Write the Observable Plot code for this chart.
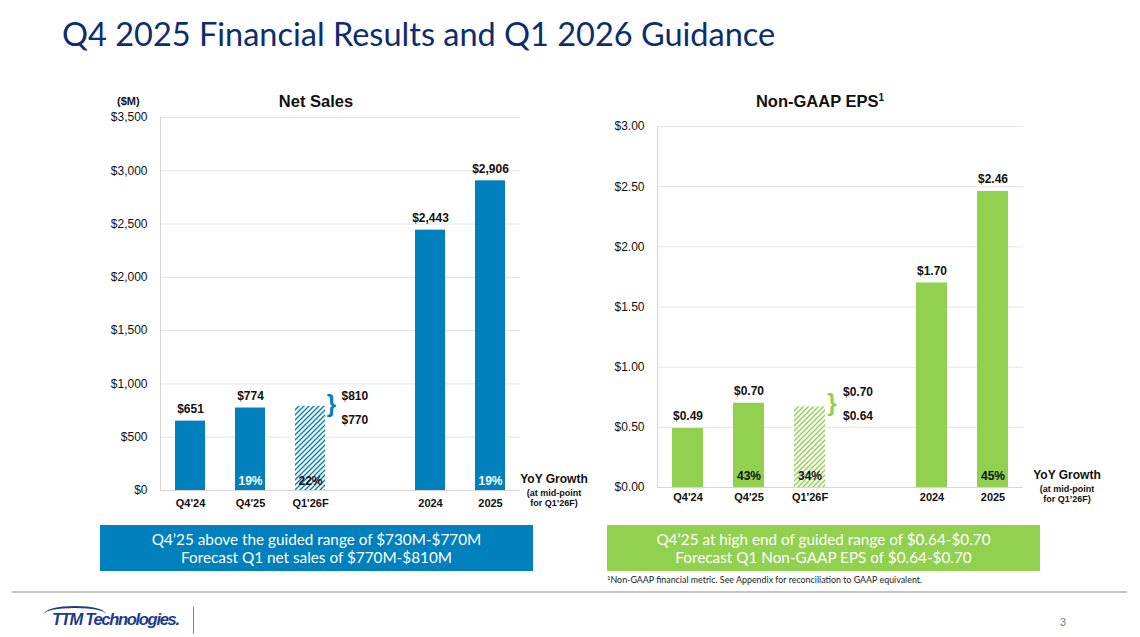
<!DOCTYPE html>
<html><head><meta charset="utf-8">
<script src="https://cdn.jsdelivr.net/npm/d3@7"></script>
<script src="https://cdn.jsdelivr.net/npm/@observablehq/plot@0.6"></script>
<style>
body{margin:0;background:#fff;}
#page{position:relative;width:1140px;height:637px;overflow:hidden;font-family:"Liberation Sans",Arial,sans-serif;color:#111;}
.abs{position:absolute;white-space:nowrap;}
.ctitle{font-weight:bold;font-size:16.5px;text-align:center;width:300px;transform:translateX(-150px);}
.yoy{font-weight:bold;text-align:center;width:100px;transform:translateX(-50px);line-height:1;}
.box{color:#fff;font-family:Lato,"Open Sans",sans-serif;font-size:15.3px;line-height:18px;text-align:center;padding-top:5px;box-sizing:border-box;}
</style></head><body><div id="page">
<div class="abs" style="left:62px;top:13px;font-family:Lato,'Open Sans',sans-serif;font-size:32.5px;line-height:42px;color:#0C2D6E;">Q4 2025 Financial Results and Q1 2026 Guidance</div>

<div class="abs ctitle" style="left:316px;top:92px;">Net Sales</div>
<div class="abs" style="left:117px;top:95px;font-weight:bold;font-size:11px;">($M)</div>
<div class="abs ctitle" style="left:820px;top:92px;">Non-GAAP EPS<span style="font-size:10px;position:relative;top:-6px;">1</span></div>

<div class="abs yoy" style="left:554px;top:473px;font-size:12px;">YoY Growth</div>
<div class="abs yoy" style="left:554px;top:488px;font-size:9px;line-height:10px;">(at mid-point<br>for Q1’26F)</div>
<div class="abs yoy" style="left:1067px;top:469px;font-size:12px;">YoY Growth</div>
<div class="abs yoy" style="left:1067px;top:484px;font-size:9px;line-height:10px;">(at mid-point<br>for Q1’26F)</div>

<div class="abs box" style="left:100px;top:525px;width:433px;height:46px;background:#0080BC;">Q4’25 above the guided range of $730M-$770M<br>Forecast Q1 net sales of $770M-$810M</div>
<div class="abs box" style="left:607px;top:525px;width:433px;height:46px;background:#92D050;">Q4’25 at high end of guided range of $0.64-$0.70<br>Forecast Q1 Non-GAAP EPS of $0.64-$0.70</div>
<div class="abs" style="left:607px;top:574px;font-family:Lato,'Open Sans',sans-serif;font-size:8.9px;color:#222;"><span style="font-size:6px;position:relative;top:-3px;">1</span>Non-GAAP financial metric. See Appendix for reconciliation to GAAP equivalent.</div>

<div class="abs" style="left:12px;top:591px;width:1115px;height:2px;background:#C4C4C4;"></div>
<div class="abs" style="left:44px;top:606px;width:62px;height:14px;border-top:2px solid #1B3B8F;border-radius:50% 50% 0 0;"></div>
<div class="abs" style="left:52px;top:610px;font-weight:bold;font-style:italic;font-size:16.5px;letter-spacing:-1.3px;color:#1B3B8F;">TTM Technologies.</div>
<div class="abs" style="left:193px;top:607px;width:1px;height:27px;background:#888;"></div>
<div class="abs" style="left:1060px;top:616px;font-size:11px;color:#777;">3</div>
</div>
<script>
// ---- data ----
const categories = ["Q4'24", "Q4'25", "Q1'26F", " ", "2024", "2025"];
const barCategories = ["Q4'24", "Q4'25", "Q1'26F", "2024", "2025"];
const isForecast = [false, false, true, false, false];

const salesValues = [651, 774, 790, 2443, 2906];
const salesValueLabels = ["$651", "$774", "", "$2,443", "$2,906"];
const salesGrowth = ["", "19%", "22%", "", "19%"];
const salesGuideHigh = "$810";
const salesGuideLow = "$770";
const salesTicks = [0, 500, 1000, 1500, 2000, 2500, 3000, 3500];

const epsValues = [0.49, 0.70, 0.67, 1.70, 2.46];
const epsValueLabels = ["$0.49", "$0.70", "", "$1.70", "$2.46"];
const epsGrowth = ["", "43%", "34%", "", "45%"];
const epsGuideHigh = "$0.70";
const epsGuideLow = "$0.64";
const epsTicks = [0, 0.5, 1.0, 1.5, 2.0, 2.5, 3.0];

function rows(values, labels, growth) {
  return barCategories.map((c, i) => ({cat: c, v: values[i], label: labels[i], growth: growth[i], fc: isForecast[i]}));
}

function makeChart(cfg) {
  const data = rows(cfg.values, cfg.labels, cfg.growth);
  const fcRow = data.filter(d => d.fc);
  const svg = Plot.plot({
    width: cfg.width, height: cfg.height,
    marginLeft: cfg.ml, marginRight: cfg.mr, marginTop: cfg.mt, marginBottom: cfg.mb,
    style: {fontFamily: '"Liberation Sans", Arial, sans-serif', fontSize: "12px", color: "#111", background: "transparent", overflow: "visible"},
    x: {domain: categories, paddingInner: 0.5, paddingOuter: 0.25, label: null},
    y: {domain: cfg.domain, label: null},
    marks: [
      Plot.gridY(cfg.ticks, {stroke: "#E4E4E4", strokeOpacity: 1}),
      Plot.frame({anchor: "left", stroke: "#D6D6D6"}),
      Plot.ruleY([0], {stroke: "#D6D6D6"}),
      Plot.axisY(cfg.ticks, {tickSize: 0, tickPadding: 13, tickFormat: cfg.fmt, fontSize: 12, label: null}),
      Plot.axisX(barCategories, {tickSize: 0, tickPadding: cfg.xpad, fontWeight: "bold", fontSize: 11, label: null}),
      Plot.barY(data.filter(d => !d.fc), {x: "cat", y: "v", fill: cfg.color}),
      Plot.barY(fcRow, {x: "cat", y: "v", fill: `url(#${cfg.pid})`}),
      Plot.text(data.filter(d => d.label), {x: "cat", y: "v", text: "label", dy: -12, fontWeight: "bold", fontSize: 12}),
      Plot.text(data.filter(d => d.growth), {x: "cat", y: 0, text: "growth", dy: cfg.gdy, fontWeight: "bold", fontSize: 12,
        fill: d => (cfg.whiteGrowth && !d.fc) ? "#fff" : "#111"}),
      Plot.text(fcRow, {x: "cat", y: "v", text: () => "}", dx: cfg.bdx, dy: cfg.bdy, fontSize: 24, fill: cfg.color, fontWeight: "bold"}),
      Plot.text(fcRow, {x: "cat", y: "v", text: () => cfg.high, dx: cfg.ldx, dy: cfg.hdy, textAnchor: "start", fontWeight: "bold", fontSize: 12}),
      Plot.text(fcRow, {x: "cat", y: "v", text: () => cfg.low, dx: cfg.ldx, dy: cfg.ldy, textAnchor: "start", fontWeight: "bold", fontSize: 12})
    ]
  });
  // hatch pattern definition
  const defs = d3.select(svg).insert("defs", ":first-child");
  const p = defs.append("pattern").attr("id", cfg.pid).attr("patternUnits", "userSpaceOnUse")
    .attr("width", 5).attr("height", 5);
  p.append("rect").attr("width", 5).attr("height", 5).attr("fill", "#fff");
  p.append("path").attr("d", "M-1,1 l2,-2 M0,5 l5,-5 M4,6 l2,-2")
    .attr("stroke", cfg.color).attr("stroke-width", 1.4);
  svg.style.position = "absolute";
  svg.style.left = cfg.left + "px";
  svg.style.top = cfg.top + "px";
  document.getElementById("page").appendChild(svg);
}

makeChart({
  values: salesValues, labels: salesValueLabels, growth: salesGrowth,
  high: salesGuideHigh, low: salesGuideLow, ticks: salesTicks, domain: [0, 3500],
  fmt: d3.format("$,"), color: "#0080BC", pid: "hatchBlue", whiteGrowth: true,
  left: 0, top: 80, width: 600, height: 450, ml: 160, mr: 80, mt: 37, mb: 40,
  xpad: 9, gdy: -9, bdx: 21, bdy: -2, ldx: 31, hdy: -10, ldy: 14
});

makeChart({
  values: epsValues, labels: epsValueLabels, growth: epsGrowth,
  high: epsGuideHigh, low: epsGuideLow, ticks: epsTicks, domain: [0, 3],
  fmt: d3.format("$.2f"), color: "#92D050", pid: "hatchGreen", whiteGrowth: false,
  left: 580, top: 80, width: 560, height: 450, ml: 77, mr: 117, mt: 46, mb: 43,
  xpad: 6, gdy: -11, bdx: 22, bdy: -4, ldx: 33, hdy: -15, ldy: 9
});
</script>
</body></html>
